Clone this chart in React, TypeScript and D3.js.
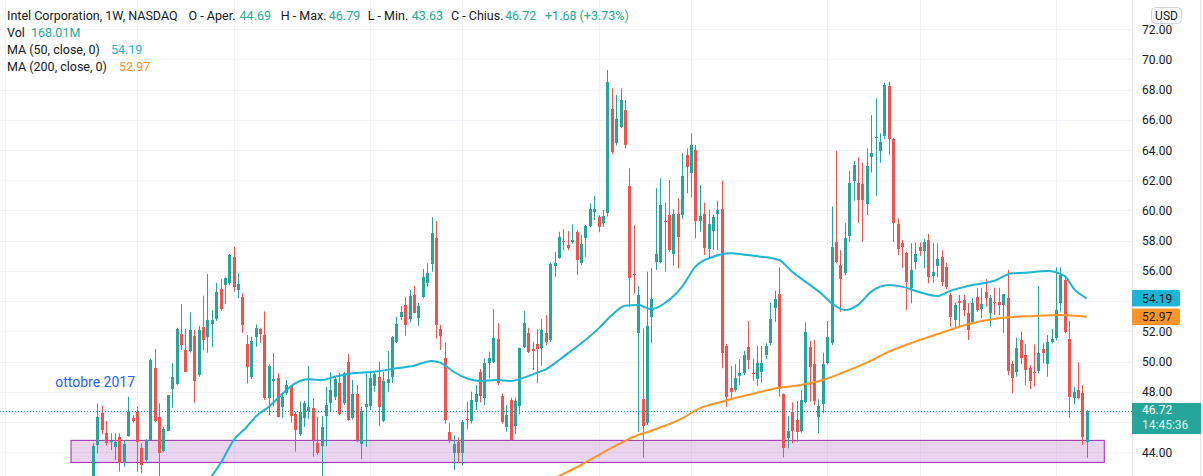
import React from 'react';
import * as d3 from 'd3';

// Weekly bars, first bar = week of 23 Oct 2017 (index 0), last = week of 21 Feb 2022 (index 226)
const opens = [
  40.85, 44.48, 46.62, 45.30, 44.68, 44.37, 45.03, 43.27, 45.08, 46.25,
  46.69, 44.26, 43.49, 44.81, 49.60, 46.32, 44.11, 45.43, 48.17, 48.52,
  51.83, 50.77, 50.72, 51.69, 49.11, 52.29, 51.65, 52.49, 52.84, 54.78,
  55.07, 55.18, 56.94, 54.74, 54.25, 51.17, 49.00, 51.61, 52.14, 51.76,
  47.57, 48.74, 48.90, 47.02, 47.94, 48.39, 46.53, 45.21, 46.29, 46.75,
  46.91, 44.60, 44.42, 46.40, 47.28, 47.68, 48.60, 47.24, 49.99, 46.25,
  47.86, 44.55, 47.02, 47.06, 48.39, 48.96, 46.09, 48.56, 49.00, 51.32,
  52.97, 53.74, 52.82, 54.41, 52.90, 54.29, 55.22, 56.46, 58.16, 52.14,
  50.22, 45.36, 43.93, 44.68, 43.93, 46.20, 46.09, 47.35, 49.30, 47.57,
  49.89, 49.99, 51.50, 47.74, 45.69, 47.46, 45.76, 47.08, 50.99, 51.91,
  50.83, 51.14, 50.88, 51.91, 51.43, 56.35, 56.87, 58.00, 57.72, 57.93,
  58.59, 56.50, 58.20, 58.99, 59.92, 59.55, 59.15, 59.81, 66.71, 64.44,
  65.54, 66.65, 61.62, 55.80, 51.87, 47.53, 45.92, 52.97, 56.61, 56.57,
  59.32, 59.70, 57.10, 59.75, 59.70, 63.67, 62.46, 64.00, 59.32, 59.77,
  57.43, 58.66, 59.77, 60.10, 51.05, 48.23, 48.12, 49.05, 49.23, 50.99,
  49.23, 48.83, 49.33, 50.44, 51.25, 53.53, 54.45, 47.84, 44.93, 46.69,
  46.14, 45.43, 47.35, 50.99, 49.84, 46.32, 47.18, 49.89, 51.25, 57.93,
  56.39, 55.84, 58.31, 61.97, 61.84, 61.75, 60.43, 63.56, 64.80, 63.95,
  64.93, 68.23, 64.73, 59.10, 57.87, 57.17, 54.85, 56.57, 57.60, 57.34,
  58.05, 55.68, 56.35, 56.90, 56.28, 54.41, 52.75, 54.03, 54.08, 53.20,
  52.64, 54.29, 53.48, 54.63, 53.20, 53.96, 53.96, 53.74, 54.23, 49.84,
  49.33, 51.43, 50.44, 49.60, 49.33, 49.40, 50.83, 49.84, 51.32, 51.58,
  53.90, 55.40, 51.50, 47.61, 48.12, 47.90, 44.69,
];
const highs = [
  44.60, 47.24, 47.08, 46.07, 45.26, 45.26, 45.26, 44.81, 47.68, 46.45,
  47.02, 44.60, 44.86, 50.19, 50.85, 47.24, 45.69, 47.79, 49.89, 52.24,
  53.81, 52.18, 53.26, 52.09, 52.36, 54.36, 55.80, 53.41, 55.22, 55.45,
  55.58, 57.12, 57.60, 55.84, 54.52, 51.76, 51.65, 52.47, 52.24, 53.33,
  49.82, 50.55, 49.23, 47.90, 48.78, 48.45, 46.69, 47.35, 47.41, 49.71,
  47.57, 46.36, 46.40, 48.34, 49.29, 49.00, 49.27, 49.33, 50.50, 48.78,
  48.45, 47.02, 49.23, 49.33, 49.27, 49.99, 49.33, 50.70, 51.69, 52.97,
  53.68, 54.29, 54.74, 55.00, 53.90, 56.13, 56.50, 59.55, 59.30, 52.42,
  51.28, 45.92, 45.10, 44.99, 46.14, 47.35, 48.01, 48.45, 49.50, 50.20,
  50.66, 53.48, 52.53, 47.90, 47.13, 47.61, 47.61, 50.92, 53.35, 52.24,
  51.32, 52.16, 52.80, 53.08, 56.57, 57.27, 58.59, 58.77, 58.64, 59.08,
  58.71, 58.38, 59.04, 60.47, 60.96, 59.70, 60.03, 69.29, 68.08, 67.64,
  68.08, 67.31, 62.79, 59.04, 55.00, 52.20, 55.95, 56.17, 61.47, 62.13,
  60.51, 62.01, 60.10, 60.80, 63.78, 64.11, 65.10, 64.33, 61.68, 60.51,
  60.03, 59.70, 60.65, 61.97, 51.17, 49.71, 49.84, 50.15, 50.72, 52.69,
  50.15, 51.03, 51.03, 51.21, 53.90, 54.69, 56.24, 47.90, 46.40, 47.31,
  47.39, 48.12, 52.60, 51.38, 51.43, 47.50, 50.59, 52.69, 60.25, 63.95,
  57.38, 59.15, 62.60, 63.27, 63.52, 63.16, 64.11, 66.31, 67.42, 65.10,
  68.45, 68.52, 64.80, 59.48, 58.05, 57.27, 57.83, 57.87, 57.87, 58.09,
  58.44, 57.83, 57.83, 57.38, 56.54, 54.52, 53.90, 54.41, 54.41, 53.86,
  54.19, 54.85, 54.89, 55.45, 54.41, 54.89, 54.89, 54.47, 56.06, 50.04,
  51.58, 51.98, 51.17, 49.78, 51.14, 55.00, 51.21, 51.76, 52.16, 56.24,
  56.24, 55.66, 52.71, 48.34, 49.95, 48.45, 46.79,
];
const lows = [
  40.60, 43.93, 45.20, 44.45, 44.15, 43.49, 42.72, 43.05, 45.03, 45.96,
  42.72, 42.61, 43.29, 44.77, 46.00, 42.43, 44.04, 45.40, 46.95, 48.45,
  50.77, 49.30, 50.60, 47.28, 49.00, 50.77, 50.59, 50.95, 52.70, 53.35,
  53.81, 55.05, 54.63, 54.19, 51.91, 48.56, 48.85, 50.99, 51.25, 47.46,
  46.47, 47.02, 46.30, 46.25, 47.80, 45.96, 44.04, 45.08, 45.69, 46.22,
  43.71, 43.82, 42.30, 44.42, 46.69, 47.46, 46.47, 47.13, 46.10, 46.18,
  44.68, 43.54, 44.37, 46.80, 48.00, 45.74, 46.00, 48.01, 48.60, 51.23,
  52.75, 51.71, 52.60, 53.20, 52.36, 54.20, 54.96, 55.95, 51.54, 50.77,
  45.90, 44.60, 42.83, 43.27, 43.16, 45.52, 45.90, 46.80, 47.30, 47.13,
  48.90, 49.90, 48.45, 45.90, 45.36, 44.75, 45.21, 46.51, 50.90, 50.57,
  49.45, 48.56, 49.73, 51.10, 51.30, 55.62, 56.80, 57.38, 57.38, 57.80,
  55.73, 56.40, 56.94, 58.90, 59.37, 58.56, 58.90, 59.60, 63.72, 64.30,
  65.44, 64.11, 53.63, 54.52, 45.36, 43.63, 45.80, 51.21, 56.06, 56.50,
  55.95, 57.27, 56.35, 56.17, 59.42, 61.14, 60.87, 58.16, 58.60, 57.05,
  56.83, 57.38, 57.38, 49.56, 47.02, 47.46, 48.00, 48.45, 49.10, 49.49,
  48.74, 48.39, 48.63, 50.17, 51.10, 52.64, 47.68, 43.67, 44.26, 44.60,
  44.70, 45.30, 47.24, 47.35, 47.13, 45.26, 46.58, 49.80, 51.10, 56.50,
  53.30, 55.70, 57.93, 60.65, 59.19, 57.93, 59.70, 62.50, 60.96, 63.16,
  64.73, 63.67, 57.93, 57.05, 56.20, 53.41, 53.86, 56.10, 57.00, 56.17,
  55.18, 55.22, 55.58, 55.00, 54.78, 52.31, 52.27, 52.31, 53.02, 51.43,
  52.55, 53.30, 52.87, 53.63, 52.31, 53.08, 53.08, 51.91, 49.11, 47.90,
  49.00, 49.84, 48.41, 48.17, 48.34, 49.23, 49.89, 49.00, 51.20, 51.40,
  53.30, 51.90, 46.29, 47.18, 47.50, 44.48, 43.63,
];
const closes = [
  44.40, 46.36, 45.48, 44.60, 44.77, 44.70, 43.27, 44.55, 46.69, 46.07,
  44.70, 43.16, 44.81, 50.11, 46.09, 43.93, 45.52, 47.77, 49.00, 52.18,
  51.10, 49.33, 52.09, 48.74, 52.09, 51.43, 52.75, 52.75, 54.63, 53.46,
  55.51, 57.07, 54.96, 55.13, 52.42, 49.66, 51.36, 52.20, 51.83, 47.57,
  49.71, 48.85, 46.36, 47.64, 48.45, 46.40, 45.47, 46.69, 47.24, 46.98,
  44.81, 43.93, 45.65, 47.13, 48.12, 48.85, 46.51, 49.27, 46.14, 47.86,
  44.81, 46.75, 47.20, 48.90, 49.16, 47.02, 48.72, 48.85, 51.65, 52.47,
  53.26, 52.42, 54.34, 53.24, 53.68, 55.58, 55.84, 58.49, 52.42, 51.71,
  46.14, 44.81, 44.55, 43.93, 45.98, 46.15, 47.46, 47.86, 47.70, 49.89,
  50.22, 51.54, 48.56, 46.02, 46.47, 44.81, 47.39, 50.88, 52.53, 50.66,
  50.72, 50.83, 52.09, 51.32, 56.44, 56.50, 58.26, 57.93, 57.54, 58.05,
  56.72, 57.76, 58.97, 60.10, 60.10, 58.93, 59.63, 68.52, 63.89, 66.05,
  67.31, 64.33, 55.51, 55.73, 54.41, 45.76, 52.38, 54.14, 57.12, 60.36,
  59.22, 57.38, 59.75, 58.26, 62.28, 62.90, 64.33, 59.32, 59.63, 57.50,
  59.10, 59.59, 60.03, 50.55, 47.68, 48.01, 48.90, 49.27, 50.44, 50.11,
  49.18, 49.93, 49.93, 51.03, 52.80, 54.14, 48.17, 44.26, 45.41, 45.43,
  45.36, 47.46, 51.98, 49.66, 47.41, 47.06, 49.84, 51.65, 57.60, 56.61,
  55.47, 58.16, 61.84, 63.01, 60.69, 60.69, 62.94, 63.78, 64.88, 64.55,
  68.30, 64.73, 59.15, 57.43, 57.60, 55.29, 56.06, 57.12, 57.34, 57.93,
  55.62, 55.95, 56.79, 55.29, 54.92, 52.93, 53.74, 53.90, 53.41, 52.09,
  53.90, 53.41, 53.81, 54.23, 54.19, 53.86, 53.74, 54.47, 49.40, 48.94,
  50.92, 50.22, 49.45, 48.74, 49.23, 50.55, 50.59, 51.32, 51.50, 53.41,
  55.73, 51.98, 47.68, 47.99, 47.57, 45.04, 46.72,
];

// Moving averages (bar index, value)
const ma50Bars = [24, 27, 29, 32, 35, 37, 40, 42, 44, 46, 49, 52, 55, 58, 61, 64, 69, 73, 77, 79, 82, 85, 88, 92, 95, 98, 101, 103, 106, 109, 112, 115, 118, 121, 124, 127, 130, 134, 137, 141, 145, 149, 152, 156, 159, 162, 166, 168, 171, 174, 177, 181, 184, 187, 192, 195, 199, 205, 209, 212, 217, 221, 223, 226];
const ma50Values = [41.5, 42.43, 43.27, 44.81, 45.69, 46.36, 47.02, 47.57, 48.12, 48.56, 48.83, 48.78, 49.0, 49.18, 49.27, 49.33, 49.56, 49.73, 50.04, 49.93, 49.33, 48.9, 48.72, 48.78, 48.72, 48.94, 49.27, 49.49, 50.11, 50.77, 51.43, 52.2, 53.08, 53.7, 53.75, 53.46, 53.86, 54.96, 56.28, 56.94, 57.17, 57.05, 56.94, 56.72, 55.95, 55.29, 54.41, 53.86, 53.41, 53.75, 54.63, 55.07, 54.96, 54.69, 54.34, 54.69, 55.0, 55.35, 55.84, 55.88, 55.99, 55.66, 54.85, 54.19];
const ma200Bars = [100, 106, 111, 115, 120, 123, 127, 134, 138, 143, 149, 156, 161, 166, 171, 176, 181, 187, 193, 199, 206, 214, 220, 226];
const ma200Values = [41.6, 42.43, 43.16, 43.82, 44.6, 45.03, 45.43, 46.25, 46.91, 47.35, 47.79, 48.27, 48.45, 48.78, 49.33, 49.93, 50.66, 51.32, 51.91, 52.47, 52.87, 53.02, 53.08, 52.97];

const gridPrices = [44, 46, 48, 50, 52, 54, 56, 58, 60, 62, 64, 66, 68, 70, 72];
const axisLabels = ['44.00', '48.00', '50.00', '52.00', '56.00', '58.00', '60.00', '62.00', '64.00', '66.00', '68.00', '70.00', '72.00'];
const timeGridBars = [-20, 10, 32, 63, 84, 115, 136, 167, 188, 219];

const zoneBars = [-5, 230];
const zonePrices = [43.33, 44.79];
const noteText = 'ottobre 2017';
const noteBar = -8.6;
const notePrice = 48.35;

const lastClose = 46.72;
const lastMa50 = 54.19;
const lastMa200 = 52.97;

const UP = '#26a69a';
const DOWN = '#ef5350';
const MA50C = '#1cb5d4';
const MA200C = '#ff9526';
const GREEN_TXT = '#22ab94';
const FONT = "Roboto, 'Noto Sans', Arial, sans-serif";

export default function App() {
  const x = d3.scaleLinear().domain([0, 226]).range([93, 1086.7]);
  const y = d3.scaleLinear().domain([44, 72]).range([452.3, 29.1]);
  const plotRight = 1132;

  const maLine = (bars: number[], vals: number[]) =>
    d3.line<number>()
      .x((_, i) => x(bars[i]))
      .y((v) => y(v))
      .curve(d3.curveMonotoneX)(vals) || '';

  const candles = opens.map((o, i) => {
    const c = closes[i];
    const h = highs[i];
    const l = lows[i];
    const up = c >= o;
    const col = up ? UP : DOWN;
    const cx = Math.round(x(i));
    const top = Math.round(y(Math.max(o, c)));
    const bot = Math.round(y(Math.min(o, c)));
    return (
      <g key={i}>
        <line x1={cx + 0.5} x2={cx + 0.5} y1={y(h)} y2={y(l)} stroke={col} strokeWidth={1} />
        <rect x={cx - 1} y={top} width={3} height={Math.max(1, bot - top)} fill={col} />
      </g>
    );
  });

  const ly = Math.round(y(lastClose)) + 0.5;

  return (
    <svg width={1203} height={476} style={{ position: 'absolute', left: 0, top: 0, display: 'block' }} fontFamily={FONT}>
      <defs>
        <clipPath id="plotClip"><rect x={0} y={0} width={plotRight} height={476} /></clipPath>
      </defs>
      <rect x={0} y={0} width={1203} height={476} fill="#ffffff" />
      <g clipPath="url(#plotClip)">
        {gridPrices.map((p) => (
          <line key={'h' + p} x1={0} x2={plotRight} y1={Math.round(y(p)) + 0.5} y2={Math.round(y(p)) + 0.5} stroke="#f0f3fa" strokeWidth={1} />
        ))}
        {timeGridBars.map((b) => (
          <line key={'v' + b} x1={Math.round(x(b)) + 0.5} x2={Math.round(x(b)) + 0.5} y1={0} y2={476} stroke="#f0f3fa" strokeWidth={1} />
        ))}
        <rect x={x(zoneBars[0])} y={y(zonePrices[1])} width={x(zoneBars[1]) - x(zoneBars[0])} height={y(zonePrices[0]) - y(zonePrices[1])}
          fill="rgba(156,39,176,0.2)" stroke="#9c27b0" strokeWidth={1} />
        {candles}
        <path d={maLine(ma200Bars, ma200Values)} fill="none" stroke={MA200C} strokeWidth={2} />
        <path d={maLine(ma50Bars, ma50Values)} fill="none" stroke={MA50C} strokeWidth={2} />
        <line x1={0} x2={plotRight} y1={ly} y2={ly} stroke={UP} strokeWidth={1} strokeDasharray="1 2" />
        <text x={x(noteBar)} y={y(notePrice)} fill="#2962ff" fontSize={14}>{noteText}</text>
      </g>
      <line x1={plotRight + 0.5} x2={plotRight + 0.5} y1={0} y2={476} stroke="#e0e3eb" />
      <line x1={1200.5} x2={1200.5} y1={0} y2={476} stroke="#e0e3eb" />
      {axisLabels.map((t) => (
        <text key={t} x={1142} y={y(+t) + 4.5} fontSize={12} fill="#131722">{t}</text>
      ))}
      <rect x={1151.5} y={7.5} width={30} height={16} rx={4} fill="#ffffff" stroke="#d1d4dc" />
      <text x={1166.5} y={19.5} fontSize={12} fill="#131722" textAnchor="middle">USD</text>
      <path d={`M${plotRight},${y(lastMa50) - 8.3} h46 a2,2 0 0 1 2,2 v12.6 a2,2 0 0 1 -2,2 h-46 z`} fill={MA50C} />
      <text x={1142} y={y(lastMa50) + 4.3} fontSize={12} fill="#131722">{lastMa50.toFixed(2)}</text>
      <path d={`M${plotRight},${y(lastMa200) - 8.3} h46 a2,2 0 0 1 2,2 v12.6 a2,2 0 0 1 -2,2 h-46 z`} fill={MA200C} />
      <text x={1142} y={y(lastMa200) + 4.3} fontSize={12} fill="#131722">{lastMa200.toFixed(2)}</text>
      <rect x={plotRight} y={403} width={69} height={31} fill={UP} />
      <text x={1142} y={413.5} fontSize={12} fill="#ffffff">{lastClose.toFixed(2)}</text>
      <text x={1142} y={429} fontSize={12} fill="#ffffff" fillOpacity={0.85}>14:45:36</text>

      <g fontSize={12.5} fill="#131722">
        <text x={7} y={20}>Intel Corporation, 1W, NASDAQ</text>
        <text x={188.6} y={20}>O - Aper.</text>
        <text x={239.6} y={20} fill={GREEN_TXT}>44.69</text>
        <text x={280.7} y={20}>H - Max.</text>
        <text x={328.8} y={20} fill={GREEN_TXT}>46.79</text>
        <text x={367.7} y={20}>L - Min.</text>
        <text x={411.7} y={20} fill={GREEN_TXT}>43.63</text>
        <text x={451} y={20}>C - Chius.</text>
        <text x={505} y={20} fill={GREEN_TXT}>46.72</text>
        <text x={545} y={20} fill={GREEN_TXT}>+1.68 (+3.73%)</text>
        <text x={7} y={37}>Vol</text>
        <text x={31} y={37} fill={GREEN_TXT}>168.01M</text>
        <text x={7} y={54}>MA (50, close, 0)</text>
        <text x={111} y={54} fill={MA50C}>54.19</text>
        <text x={7} y={71}>MA (200, close, 0)</text>
        <text x={119} y={71} fill={MA200C}>52.97</text>
      </g>
    </svg>
  );
}
